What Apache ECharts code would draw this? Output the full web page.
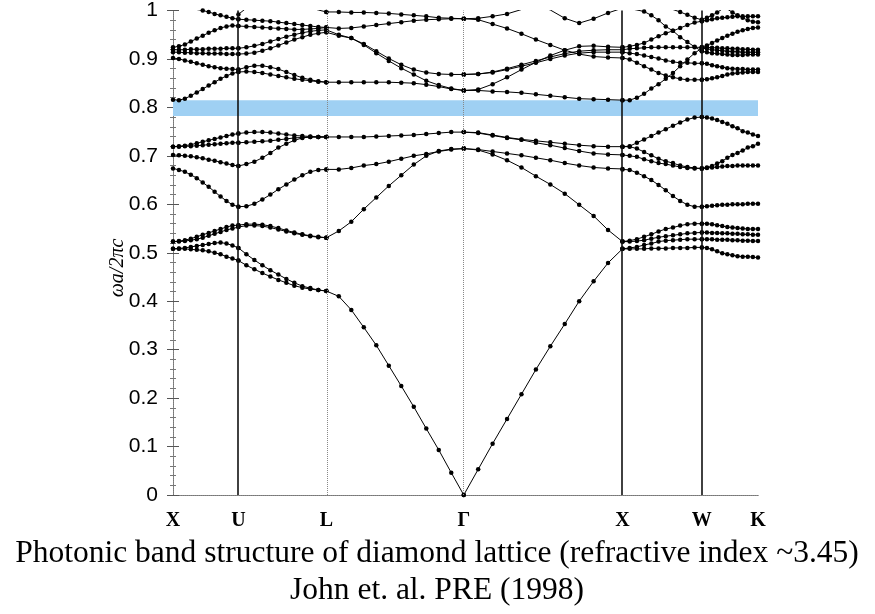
<!DOCTYPE html>
<html>
<head>
<meta charset="utf-8">
<script src="https://cdn.jsdelivr.net/npm/echarts@6/dist/echarts.min.js"></script>
<style>
html, body { margin: 0; padding: 0; background: #fff; }
#chart-bands { width: 875px; height: 614px; }
</style>
</head>
<body>
<div id="chart-bands"></div>
<script>
// high symmetry points along the k-path (Gamma-X = 1)
var kLabels = ['X', 'U', 'L', 'Γ', 'X', 'W', 'K'];
var kTicks = [0, 0.412, 0.966, 1.832, 2.832, 3.332, 3.686];
var gapBand = [0.782, 0.815];

// omega a / 2 pi c, 12 samples per path segment, one row per band
var segXU = [
	[0.508,0.508,0.508,0.507,0.506,0.505,0.503,0.500,0.497,0.492,0.488,0.484],
	[0.508,0.509,0.510,0.512,0.514,0.516,0.518,0.520,0.521,0.519,0.515,0.510],
	[0.523,0.523,0.524,0.526,0.528,0.531,0.535,0.539,0.543,0.547,0.550,0.553],
	[0.523,0.524,0.526,0.529,0.533,0.537,0.541,0.545,0.549,0.553,0.556,0.557],
	[0.674,0.671,0.667,0.661,0.654,0.645,0.636,0.626,0.616,0.607,0.599,0.595],
	[0.702,0.701,0.700,0.699,0.697,0.695,0.692,0.690,0.687,0.684,0.681,0.679],
	[0.719,0.719,0.720,0.720,0.721,0.722,0.723,0.724,0.725,0.726,0.727,0.727],
	[0.719,0.720,0.721,0.723,0.726,0.729,0.732,0.735,0.738,0.741,0.744,0.746],
	[0.816,0.815,0.818,0.824,0.831,0.838,0.845,0.852,0.859,0.865,0.870,0.873],
	[0.902,0.900,0.897,0.894,0.891,0.888,0.885,0.883,0.881,0.880,0.879,0.878],
	[0.914,0.914,0.913,0.913,0.912,0.912,0.911,0.911,0.911,0.910,0.910,0.910],
	[0.919,0.919,0.919,0.920,0.920,0.920,0.921,0.921,0.921,0.922,0.922,0.922],
	[0.924,0.926,0.930,0.936,0.942,0.948,0.954,0.959,0.964,0.967,0.969,0.968],
	[1.030,1.020,1.012,1.006,1.002,1.000,0.997,0.993,0.990,0.987,0.984,0.982]
];
var segUL = [
	[0.484,0.474,0.466,0.458,0.451,0.444,0.438,0.432,0.428,0.425,0.423,0.421],
	[0.510,0.497,0.485,0.474,0.464,0.455,0.446,0.438,0.431,0.427,0.423,0.421],
	[0.553,0.556,0.556,0.555,0.552,0.548,0.544,0.540,0.537,0.534,0.532,0.531],
	[0.557,0.559,0.559,0.558,0.555,0.551,0.546,0.542,0.538,0.535,0.533,0.531],
	[0.595,0.596,0.601,0.610,0.620,0.631,0.641,0.651,0.660,0.667,0.671,0.672],
	[0.679,0.683,0.688,0.696,0.706,0.717,0.725,0.732,0.737,0.739,0.739,0.739],
	[0.727,0.728,0.729,0.730,0.731,0.733,0.735,0.737,0.738,0.739,0.739,0.739],
	[0.746,0.748,0.749,0.749,0.748,0.746,0.744,0.742,0.741,0.740,0.739,0.739],
	[0.873,0.874,0.873,0.871,0.868,0.865,0.862,0.859,0.857,0.855,0.853,0.852],
	[0.878,0.883,0.886,0.886,0.883,0.879,0.873,0.867,0.861,0.857,0.854,0.852],
	[0.910,0.911,0.913,0.917,0.922,0.928,0.934,0.940,0.945,0.950,0.953,0.955],
	[0.922,0.924,0.927,0.931,0.936,0.941,0.946,0.950,0.954,0.957,0.959,0.960],
	[0.968,0.967,0.966,0.965,0.964,0.963,0.962,0.961,0.961,0.962,0.963,0.965],
	[0.982,0.981,0.980,0.979,0.978,0.976,0.974,0.972,0.970,0.968,0.966,0.965],
	[0.992,1.005,1.020,null,null,null,null,null,null,null,null,null],
	[null,null,null,null,null,null,null,null,1.012,1.006,1.001,0.997]
];
var segLG = [
	[0.421,0.410,0.382,0.346,0.309,0.267,0.225,0.182,0.137,0.093,0.046,0.000],
	[0.531,0.545,0.564,0.590,0.614,0.638,0.660,0.682,0.700,0.710,0.714,0.715],
	[0.672,0.672,0.675,0.680,0.683,0.688,0.694,0.700,0.704,0.709,0.713,0.715],
	[0.739,0.739,0.739,0.739,0.740,0.741,0.742,0.743,0.745,0.747,0.749,0.749],
	[0.852,0.852,0.852,0.852,0.852,0.852,0.851,0.850,0.847,0.843,0.838,0.835],
	[0.955,0.948,0.943,0.929,0.912,0.896,0.881,0.868,0.855,0.846,0.839,0.835],
	[0.960,0.950,0.943,0.931,0.916,0.901,0.888,0.878,0.872,0.869,0.868,0.868],
	[0.965,0.963,0.964,0.967,0.970,0.973,0.976,0.979,0.981,0.982,0.983,0.983],
	[0.997,0.997,0.996,0.996,0.995,0.994,0.992,0.990,0.988,0.985,0.984,0.983]
];
var segGX = [
	[0.000,0.053,0.106,0.157,0.208,0.259,0.307,0.353,0.400,0.441,0.479,0.508],
	[0.715,0.712,0.703,0.691,0.676,0.658,0.641,0.622,0.599,0.576,0.547,0.523],
	[0.715,0.713,0.709,0.705,0.701,0.696,0.691,0.685,0.680,0.676,0.674,0.673],
	[0.749,0.747,0.742,0.737,0.733,0.727,0.722,0.716,0.710,0.705,0.703,0.702],
	[0.749,0.748,0.743,0.738,0.734,0.731,0.728,0.725,0.722,0.720,0.719,0.719],
	[0.835,0.835,0.833,0.832,0.830,0.827,0.824,0.821,0.818,0.817,0.816,0.815],
	[0.835,0.837,0.848,0.862,0.878,0.893,0.907,0.918,0.926,0.927,0.925,0.924],
	[0.868,0.869,0.872,0.878,0.885,0.892,0.900,0.907,0.912,0.914,0.914,0.914],
	[0.868,0.869,0.873,0.880,0.888,0.896,0.904,0.911,0.916,0.918,0.919,0.919],
	[0.983,0.981,0.972,0.963,0.952,0.940,0.929,0.918,0.910,0.905,0.903,0.902],
	[0.983,0.984,0.988,0.993,1.002,1.012,null,null,null,null,null,null],
	[null,null,null,null,null,1.012,1.001,0.984,0.974,0.983,0.995,1.005]
];
var segXW = [
	[0.508,0.508,0.508,0.508,0.509,0.509,0.509,0.510,0.510,0.510,0.511,0.511],
	[0.508,0.510,0.512,0.516,0.519,0.523,0.525,0.526,0.527,0.528,0.528,0.528],
	[0.523,0.523,0.524,0.526,0.529,0.532,0.534,0.536,0.538,0.540,0.541,0.542],
	[0.523,0.525,0.528,0.533,0.538,0.544,0.549,0.552,0.556,0.559,0.560,0.560],
	[0.672,0.671,0.665,0.658,0.650,0.640,0.629,0.617,0.607,0.599,0.595,0.595],
	[0.702,0.700,0.698,0.693,0.689,0.685,0.683,0.680,0.677,0.675,0.674,0.674],
	[0.719,0.719,0.715,0.708,0.701,0.694,0.689,0.685,0.680,0.677,0.675,0.674],
	[0.719,0.720,0.727,0.734,0.741,0.748,0.755,0.762,0.769,0.775,0.779,0.780],
	[0.815,0.815,0.820,0.828,0.839,0.848,0.859,0.871,0.885,0.899,0.912,0.922],
	[0.902,0.899,0.892,0.885,0.878,0.871,0.866,0.862,0.859,0.857,0.857,0.857],
	[0.914,0.912,0.910,0.907,0.904,0.901,0.897,0.894,0.892,0.892,0.891,0.891],
	[0.919,0.921,0.922,0.923,0.924,0.924,0.924,0.924,0.924,0.924,0.924,0.924],
	[0.924,0.926,0.929,0.933,0.940,0.947,0.953,0.958,0.964,0.970,0.975,0.978],
	[1.005,1.004,1.001,0.998,0.990,0.980,0.967,0.958,0.945,0.935,0.925,0.916],
	[null,null,null,null,null,null,1.010,1.002,0.997,0.991,0.985,0.981]
];
var segWK = [
	[0.511,0.510,0.507,0.503,0.499,0.497,0.495,0.493,0.492,0.492,0.491,0.490],
	[0.528,0.528,0.528,0.527,0.527,0.527,0.526,0.526,0.525,0.525,0.524,0.524],
	[0.542,0.542,0.541,0.541,0.540,0.540,0.539,0.539,0.538,0.538,0.537,0.537],
	[0.560,0.560,0.559,0.557,0.555,0.553,0.552,0.551,0.550,0.549,0.549,0.549],
	[0.595,0.596,0.597,0.598,0.599,0.599,0.600,0.600,0.600,0.601,0.601,0.601],
	[0.674,0.675,0.676,0.677,0.678,0.679,0.679,0.680,0.680,0.680,0.680,0.680],
	[0.674,0.676,0.679,0.684,0.689,0.696,0.702,0.706,0.711,0.717,0.720,0.725],
	[0.780,0.779,0.777,0.774,0.770,0.766,0.761,0.757,0.751,0.748,0.744,0.741],
	[0.857,0.858,0.860,0.862,0.865,0.868,0.870,0.871,0.872,0.873,0.873,0.873],
	[0.891,0.890,0.887,0.885,0.883,0.881,0.880,0.879,0.879,0.878,0.878,0.878],
	[0.916,0.914,0.912,0.911,0.910,0.909,0.908,0.908,0.908,0.909,0.909,0.909],
	[0.922,0.921,0.919,0.918,0.917,0.916,0.915,0.915,0.914,0.914,0.914,0.914],
	[0.924,0.924,0.923,0.923,0.922,0.922,0.921,0.921,0.920,0.920,0.919,0.919],
	[0.924,0.928,0.933,0.938,0.943,0.948,0.952,0.956,0.959,0.962,0.964,0.965],
	[0.978,0.980,0.982,0.984,0.985,0.986,0.987,0.988,0.988,0.988,0.988,0.988],
	[0.981,0.985,0.990,0.996,1.003,1.010,null,null,null,null,null,null],
	[null,null,null,null,1.010,1.003,0.996,0.990,0.985,0.980,0.977,0.976]
];

var segments = [segXU, segUL, segLG, segGX, segXW, segWK];

function kLabel(v) {
	var best = 0;
	for (var i = 1; i < kTicks.length; i++) {
		if (Math.abs(kTicks[i] - v) < Math.abs(kTicks[best] - v)) best = i;
	}
	return kLabels[best];
}

// samples are evenly spaced inside each segment of the path
function bandSeries() {
	var list = [];
	for (var s = 0; s < segments.length; s++) {
		var k0 = kTicks[s], k1 = kTicks[s + 1];
		for (var b = 0; b < segments[s].length; b++) {
			var vals = segments[s][b];
			var pts = [];
			for (var i = 0; i < vals.length; i++) {
				if (vals[i] === null) continue;
				pts.push([k0 + (k1 - k0) * i / (vals.length - 1), vals[i]]);
			}
			list.push({
				type: 'line',
				data: pts,
				clip: true,
				silent: true,
				symbol: 'circle',
				symbolSize: 4.5,
				itemStyle: { color: '#000' },
				lineStyle: { color: '#000', width: 1 },
				z: 3
			});
		}
	}
	return list;
}

function initBands() {
	var myChart = echarts.init(document.getElementById('chart-bands'));
	var series = bandSeries();
	var dark = { color: '#111', width: 1.6, type: 'solid' };
	var light = { color: '#888', width: 1, type: 'dotted' };
	// gap band and the vertical lines at the symmetry points
	series.push({
		type: 'line',
		data: [],
		silent: true,
		markArea: {
			silent: true,
			itemStyle: { color: '#9fd0f3', opacity: 1 },
			data: [[{ yAxis: gapBand[0] }, { yAxis: gapBand[1] }]]
		},
		markLine: {
			silent: true,
			symbol: 'none',
			label: { show: false },
			data: [
				{ xAxis: kTicks[1], lineStyle: dark },
				{ xAxis: kTicks[2], lineStyle: light },
				{ xAxis: kTicks[3], lineStyle: light },
				{ xAxis: kTicks[4], lineStyle: dark },
				{ xAxis: kTicks[5], lineStyle: dark }
			]
		},
		z: 2
	});

	var frame = { show: true, lineStyle: { color: '#777', width: 1, type: 'dotted' } };
	// negative lengths turn the ticks into the plot, as in the reference frame
	var ticks = { show: true, inside: false, length: -6, lineStyle: { color: '#555' } };
	var minor = { show: true, splitNumber: 5, length: -3, lineStyle: { color: '#777' } };
	var option = {
		animation: false,
		backgroundColor: '#fff',
		grid: { left: 173, right: 117, top: 9, bottom: 119 },
		xAxis: [{
			type: 'value',
			min: 0,
			max: kTicks[kTicks.length - 1],
			axisLine: frame,
			axisTick: { show: false },
			splitLine: { show: false },
			axisLabel: {
				customValues: kTicks,
				formatter: kLabel,
				margin: 16,
				color: '#000',
				fontFamily: 'Liberation Serif',
				fontWeight: 'bold',
				fontSize: 20
			}
		}, {
			type: 'value',
			position: 'top',
			min: 0,
			max: kTicks[kTicks.length - 1],
			axisLine: frame,
			axisTick: { show: false },
			axisLabel: { show: false },
			splitLine: { show: false }
		}],
		yAxis: [{
			type: 'value',
			min: 0,
			max: 1,
			interval: 0.1,
			axisLine: frame,
			axisTick: ticks,
			minorTick: minor,
			splitLine: { show: false },
			axisLabel: {
				margin: 15,
				color: '#000',
				fontFamily: 'Liberation Sans',
				fontSize: 21
			}
		}, {
			type: 'value',
			position: 'right',
			min: 0,
			max: 1,
			interval: 0.1,
			axisLine: frame,
			axisTick: ticks,
			minorTick: minor,
			splitLine: { show: false },
			axisLabel: { show: false }
		}],
		graphic: [{
			type: 'text',
			x: 118,
			y: 268,
			rotation: Math.PI / 2,
			style: {
				text: 'ωa/2πc',
				font: 'italic 20px "Liberation Serif"',
				fill: '#000',
				textAlign: 'center',
				textVerticalAlign: 'middle'
			}
		}, {
			type: 'text',
			x: 437,
			y: 554,
			style: {
				text: 'Photonic band structure of diamond lattice (refractive index ~3.45)',
				font: '31.5px "Liberation Serif"',
				fill: '#000',
				textAlign: 'center',
				textVerticalAlign: 'middle'
			}
		}, {
			type: 'text',
			x: 437,
			y: 591,
			style: {
				text: 'John et. al. PRE (1998)',
				font: '31.5px "Liberation Serif"',
				fill: '#000',
				textAlign: 'center',
				textVerticalAlign: 'middle'
			}
		}],
		series: series
	};
	myChart.setOption(option);
}

initBands();
</script>
</body>
</html>
